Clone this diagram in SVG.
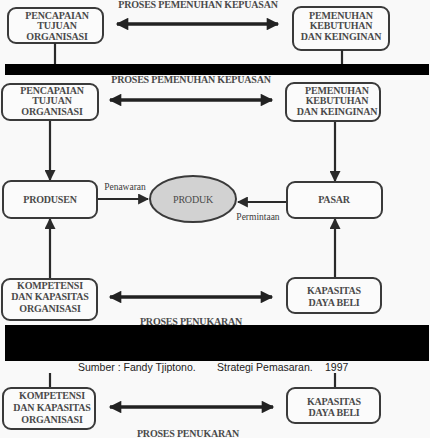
<svg xmlns="http://www.w3.org/2000/svg" width="430" height="438" viewBox="0 0 430 438">
<style>
.box{fill:#fbfbfb;stroke:#3a3a3a;stroke-width:2}
.t{font-family:"Liberation Serif","Times New Roman",serif;font-weight:bold;font-size:10px;fill:#4a4a4a;text-anchor:middle;letter-spacing:-0.2px}
.s{font-family:"Liberation Serif","Times New Roman",serif;font-size:9.5px;fill:#3a3a3a;text-anchor:middle}
.big{stroke:#222;stroke-width:3.5;fill:none}
.v{stroke:#2a2a2a;stroke-width:2.2;fill:none}
.src{font-family:"Liberation Sans",Arial,sans-serif;font-size:10.5px;fill:#222}
</style>
<defs>
<marker id="ah" viewBox="0 0 10 10" refX="9" refY="5" markerWidth="4.2" markerHeight="3.6" orient="auto-start-reverse" markerUnits="strokeWidth"><path d="M0,0 L10,5 L0,10 z" fill="#222"/></marker>
<marker id="av" viewBox="0 0 10 10" refX="9" refY="5" markerWidth="5" markerHeight="5" orient="auto" markerUnits="strokeWidth"><path d="M0,0 L10,5 L0,10 z" fill="#2a2a2a"/></marker>
</defs>
<rect width="430" height="438" fill="#f9f9f9"/>

<!-- top fragment -->
<g id="frag-top">
<text class="t" x="198" y="8">PROSES PEMENUHAN KEPUASAN</text>
<rect class="box" x="8" y="8" width="95" height="35" rx="8"/>
<text class="t" x="57" y="19">PENCAPAIAN</text>
<text class="t" x="57" y="29">TUJUAN</text>
<text class="t" x="57" y="40">ORGANISASI</text>
<rect class="box" x="293" y="7" width="96" height="43" rx="8"/>
<text class="t" x="341" y="19">PEMENUHAN</text>
<text class="t" x="341" y="29">KEBUTUHAN</text>
<text class="t" x="341" y="40">DAN KEINGINAN</text>
<line class="big" x1="117" y1="24" x2="278" y2="24" marker-start="url(#ah)" marker-end="url(#ah)"/>
<line class="v" x1="55" y1="43" x2="55" y2="64"/>
<line class="v" x1="342" y1="50" x2="342" y2="64"/>
</g>
<rect x="5" y="64" width="424" height="11" fill="#000"/>

<!-- main diagram -->
<g id="connectors">
<line class="big" x1="110" y1="100" x2="272" y2="100" marker-start="url(#ah)" marker-end="url(#ah)"/>
<line class="big" x1="110" y1="297" x2="272" y2="297" marker-start="url(#ah)" marker-end="url(#ah)"/>
<line class="v" x1="50" y1="120" x2="50" y2="180" marker-end="url(#av)"/>
<line class="v" x1="335" y1="121" x2="335" y2="181" marker-end="url(#av)"/>
<line class="v" x1="50" y1="279" x2="50" y2="219" marker-end="url(#av)"/>
<line class="v" x1="335" y1="278" x2="335" y2="219" marker-end="url(#av)"/>
<line class="v" x1="97" y1="199" x2="148" y2="199" marker-end="url(#av)"/>
<line class="v" x1="287" y1="202" x2="238" y2="202" marker-end="url(#av)"/>
<text class="s" x="125" y="190">Penawaran</text>
<text class="s" x="258" y="220">Permintaan</text>
<text class="t" x="191" y="83">PROSES PEMENUHAN KEPUASAN</text>
<text class="t" x="191" y="325">PROSES PENUKARAN</text>
</g>
<g id="n-tujuan">
<rect class="box" x="2" y="84" width="96" height="36" rx="8"/>
<text class="t" x="52" y="94">PENCAPAIAN</text>
<text class="t" x="52" y="104">TUJUAN</text>
<text class="t" x="52" y="115">ORGANISASI</text>
</g>
<g id="n-kebutuhan">
<rect class="box" x="286" y="83" width="94" height="38" rx="8"/>
<text class="t" x="337" y="94">PEMENUHAN</text>
<text class="t" x="337" y="104">KEBUTUHAN</text>
<text class="t" x="337" y="115">DAN KEINGINAN</text>
</g>
<g id="n-produsen">
<rect class="box" x="3" y="181" width="94" height="37" rx="8"/>
<text class="t" x="50" y="203">PRODUSEN</text>
</g>
<g id="n-produk">
<ellipse cx="193" cy="199" rx="43" ry="23" fill="#d2d2d2" stroke="#3a3a3a" stroke-width="2"/>
<text class="t" x="193" y="203" style="font-weight:normal">PRODUK</text>
</g>
<g id="n-pasar">
<rect class="box" x="287" y="182" width="95" height="36" rx="8"/>
<text class="t" x="334" y="203">PASAR</text>
</g>
<g id="n-kompetensi">
<rect class="box" x="2" y="279" width="95" height="41" rx="8"/>
<text class="t" x="50" y="289">KOMPETENSI</text>
<text class="t" x="50" y="300">DAN KAPASITAS</text>
<text class="t" x="50" y="312">ORGANISASI</text>
</g>
<g id="n-dayabeli">
<rect class="box" x="287" y="278" width="94" height="35" rx="8"/>
<text class="t" x="334" y="294">KAPASITAS</text>
<text class="t" x="334" y="306">DAYA BELI</text>
</g>

<rect x="5" y="325" width="424" height="36" fill="#000"/>
<text class="src" x="78" y="371">Sumber : Fandy Tjiptono.</text>
<text class="src" x="217" y="371">Strategi Pemasaran.</text>
<text class="src" x="325" y="371">1997</text>

<!-- bottom fragment -->
<g id="frag-bottom">
<line class="v" x1="50" y1="373" x2="50" y2="388"/>
<line class="v" x1="335" y1="373" x2="335" y2="388"/>
<rect class="box" x="3" y="388" width="92" height="41" rx="8"/>
<text class="t" x="52" y="399">KOMPETENSI</text>
<text class="t" x="52" y="411">DAN KAPASITAS</text>
<text class="t" x="52" y="423">ORGANISASI</text>
<rect class="box" x="287" y="388" width="93" height="35" rx="8"/>
<text class="t" x="334" y="405">KAPASITAS</text>
<text class="t" x="334" y="416">DAYA BELI</text>
<line class="big" x1="110" y1="407" x2="273" y2="407" marker-start="url(#ah)" marker-end="url(#ah)"/>
<text class="t" x="188" y="437">PROSES PENUKARAN</text>
</g>
</svg>
